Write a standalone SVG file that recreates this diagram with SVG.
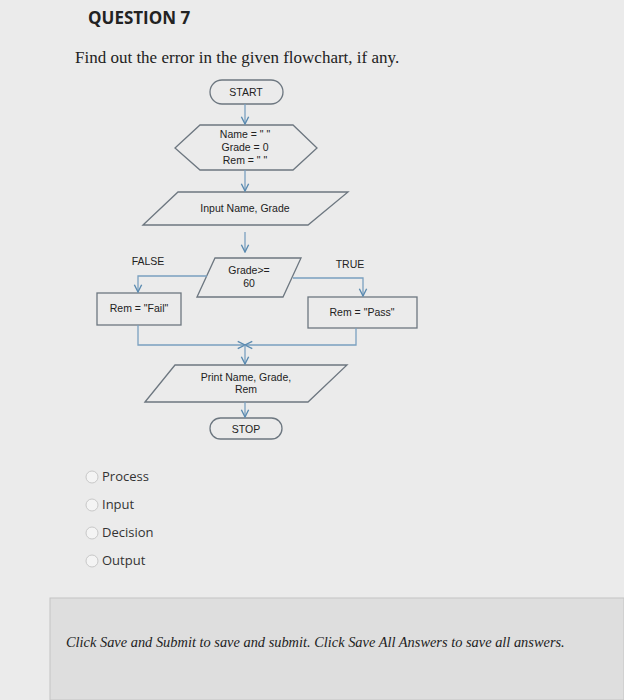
<svg xmlns="http://www.w3.org/2000/svg" width="624" height="700" viewBox="0 0 624 700">
<defs>
<marker id="ah" viewBox="0 0 10 10" refX="9" refY="5" markerWidth="7" markerHeight="7" orient="auto"><path d="M1,1 L9,5 L1,9" fill="none" stroke="#5a8ab0" stroke-width="1.5"/></marker>
<style>
.s{fill:none;stroke:#6d7780;stroke-width:1.3}
.c{fill:none;stroke:#7aa0c0;stroke-width:1.3}
.t{font-family:"Liberation Sans",Arial,sans-serif;font-size:10.5px;fill:#222;text-anchor:middle}
.o{font-family:"Open Sans","Liberation Sans",sans-serif;font-size:13px;fill:#333}
.r{fill:#f4f4f4;stroke:#c8c8c8;stroke-width:1}
</style>
</defs>
<rect width="624" height="700" fill="#ebebeb"/>
<text x="88" y="24" font-family="Open Sans,Liberation Sans,sans-serif" font-size="17" font-weight="bold" fill="#222">QUESTION 7</text>
<text x="75" y="63" font-family="Liberation Serif,serif" font-size="17" fill="#222">Find out the error in the given flowchart, if any.</text>
<g id="start"><rect x="210" y="80" width="73" height="24" rx="12" class="s"/><text class="t" x="246" y="96">START</text></g>
<g id="init"><polygon points="175,148 200,125 293,125 317,148 293,170 200,170" class="s"/><text class="t" x="245" y="138">Name = " "</text><text class="t" x="245" y="151">Grade = 0</text><text class="t" x="245" y="164">Rem = " "</text></g>
<g id="input"><polygon points="143,225 178,192 348,192 308,225" class="s"/><text class="t" x="245" y="212">Input Name, Grade</text></g>
<g id="decision"><polygon points="197,297 215,258 301,258 283,297" class="s"/><text class="t" x="249" y="274">Grade&gt;=</text><text class="t" x="249" y="287">60</text></g>
<g id="fail"><rect x="97" y="293" width="84" height="32" class="s"/><text class="t" x="139" y="312">Rem = "Fail"</text></g>
<g id="pass"><rect x="308" y="297" width="109" height="31" class="s"/><text class="t" x="362" y="316">Rem = "Pass"</text></g>
<g id="print"><polygon points="145,402 175,365 347,365 308,402" class="s"/><text class="t" x="246" y="381">Print Name, Grade,</text><text class="t" x="246" y="393">Rem</text></g>
<g id="stop"><rect x="210" y="418" width="72" height="21" rx="10.5" class="s"/><text class="t" x="246" y="433">STOP</text></g>
<g id="labels"><text class="t" x="148" y="265">FALSE</text><text class="t" x="350" y="268">TRUE</text></g>
<g id="connectors">
<line x1="245" y1="104" x2="245" y2="124" class="c" marker-end="url(#ah)"/>
<line x1="245" y1="170" x2="245" y2="191" class="c" marker-end="url(#ah)"/>
<line x1="245" y1="232" x2="245" y2="252" class="c" marker-end="url(#ah)"/>
<polyline points="207,276 138,276 138,292" class="c" marker-end="url(#ah)"/>
<polyline points="293,278 363,278 363,296" class="c" marker-end="url(#ah)"/>
<polyline points="138,325 138,345 245,345" class="c" marker-end="url(#ah)"/>
<polyline points="356,328 356,345 245,345" class="c" marker-end="url(#ah)"/>
<line x1="245" y1="345" x2="245" y2="364" class="c" marker-end="url(#ah)"/>
<line x1="245" y1="402" x2="245" y2="417" class="c" marker-end="url(#ah)"/>
</g>
<g id="options">
<circle cx="92" cy="477" r="6" class="r"/><text class="o" x="102" y="481">Process</text>
<circle cx="92" cy="505" r="6" class="r"/><text class="o" x="102" y="509">Input</text>
<circle cx="92" cy="533" r="6" class="r"/><text class="o" x="102" y="537">Decision</text>
<circle cx="92" cy="561" r="6" class="r"/><text class="o" x="102" y="565">Output</text>
</g>
<rect x="50" y="598" width="574" height="102" fill="#dedede" stroke="#c4c4c4"/>
<text x="66" y="647" font-family="Liberation Serif,serif" font-size="14.4" font-style="italic" fill="#222">Click Save and Submit to save and submit. Click Save All Answers to save all answers.</text>
</svg>
